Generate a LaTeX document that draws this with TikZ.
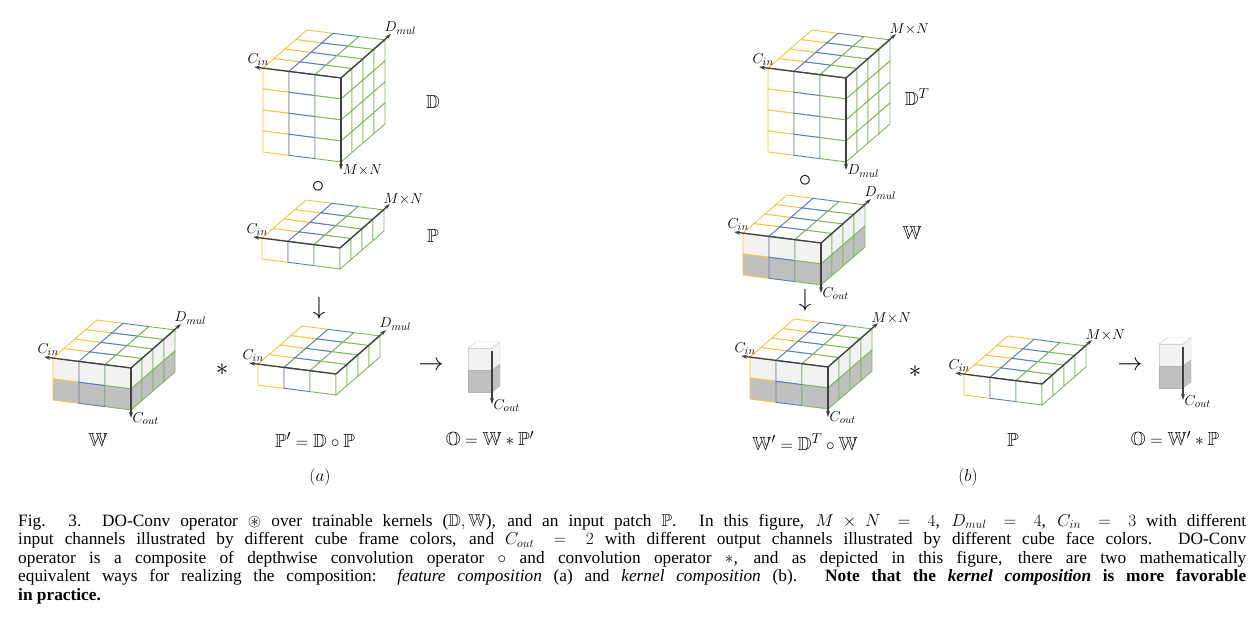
\documentclass[tikz,border=0pt]{standalone}
\usepackage{amssymb}
\usepackage{fontspec}
\setmainfont{Liberation Serif}
\usetikzlibrary{arrows.meta}
\definecolor{cy}{HTML}{F9C23C}
\definecolor{cb}{HTML}{4F7BC8}
\definecolor{cg}{HTML}{7DB955}
\definecolor{lg}{HTML}{F2F2F2}
\definecolor{dg}{HTML}{C0C0C0}
\definecolor{ax}{HTML}{404040}
\newcommand\cubeX[4]{%
 \foreach \c/\col in {0/cy,1/cb,2/cg}{%
  \foreach \k in {0,...,3}{%
   \draw[draw=\col,fill=white,line width=0.9pt] ({#1+\c*26+\k*11},{#2+\c*3.3-\k*9.5}) -- ++(26,3.3) -- ++(11,-9.5) -- ++(-26,-3.3) -- cycle;}
  \foreach \r in {1,...,#3}{%
   \def\fc{white}\ifnum#4=1 \ifnum\r=1 \def\fc{lg}\else\def\fc{dg}\fi\fi
   \draw[draw=\col,fill=\fc,line width=0.9pt] ({#1+\c*26},{#2+\c*3.3+(\r-1)*21}) -- ++(26,3.3) -- ++(0,21) -- ++(-26,-3.3) -- cycle;}}
 \foreach \r in {1,...,#3}{%
  \def\fc{white}\ifnum#4=1 \ifnum\r=1 \def\fc{lg}\else\def\fc{dg}\fi\fi
  \foreach \k in {0,...,3}{%
   \draw[draw=cg,fill=\fc,line width=0.9pt] ({#1+78+\k*11},{#2+10+(\r-1)*21-\k*9.5}) -- ++(11,-9.5) -- ++(0,21) -- ++(-11,9.5) -- cycle;}}}
\tikzset{axis/.style={draw=ax,line width=1.3pt,-{Stealth[length=6pt,width=4pt]}},
 lab/.style={font=\fontsize{15}{17}\selectfont,inner sep=1pt},
 big/.style={font=\fontsize{19}{22}\selectfont},
 op/.style={font=\fontsize{26}{28}\selectfont}}
\newcommand\axesX[7]{% X Y rows name Cin depth down
 \coordinate (#4o) at ({#1+78},{#2+10});
 \coordinate (#4l) at ({#1-9},{#2-1});
 \coordinate (#4d) at ({#1+78+50},{#2+10-44});
 \coordinate (#4v) at ({#1+78},{#2+10+#3*21+8});
 \draw[axis] (#4o) -- (#4l) node[lab,above right,xshift=-8pt] (#4L) {$#5$};
 \draw[axis] (#4o) -- (#4d) node[lab,above right,xshift=-8pt,yshift=-2pt] (#4D) {$#6$};
 \if\relax\detokenize{#7}\relax\else
 \draw[axis] (#4o) -- (#4v) node[lab,below right,yshift=7pt] (#4V) {$#7$};\fi}
\newcommand\outbox[2]{%
 \draw[draw=lg!60!gray,fill=white] ({#1},{#2}) -- ++(8,-6) -- ++(24,0) -- ++(-8,6) -- cycle;
 \draw[draw=lg!70!gray,fill=lg] ({#1},{#2}) rectangle ++(24,22);
 \draw[draw=dg!80!gray,fill=dg] ({#1},{#2+22}) rectangle ++(24,22);
 \draw[draw=lg!70!gray,fill=lg] ({#1+24},{#2}) -- ++(8,-6) -- ++(0,22) -- ++(-8,6) -- cycle;
 \draw[draw=dg!80!gray,fill=dg] ({#1+24},{#2+22}) -- ++(8,-6) -- ++(0,22) -- ++(-8,6) -- cycle;}
\begin{document}
\begin{tikzpicture}[x=1pt,y=-1pt]
\useasboundingbox (0,0) rectangle (1260,630);
% (a)
\cubeX{263}{68}{4}{0}\axesX{263}{68}{4}{aD}{C_{in}}{D_{mul}}{M{\times}N}
\node[big] (aDl) at (433,102) {$\mathbb{D}$};
\node[op] (aC) at (318,187) {$\circ$};
\cubeX{262}{238}{1}{0}\axesX{262}{238}{1}{aP}{C_{in}}{M{\times}N}{}
\node[big] (aPl) at (433,236) {$\mathbb{P}$};
\node[op] (aA) at (319,308) {$\downarrow$};
\cubeX{53}{358}{2}{1}\axesX{53}{358}{2}{aW}{C_{in}}{D_{mul}}{C_{out}}
\node[op] (aS) at (222,370) {$\ast$};
\cubeX{258}{364}{1}{0}\axesX{258}{364}{1}{aQ}{C_{in}}{D_{mul}}{}
\node[op] (aR) at (431,366) {$\rightarrow$};
\outbox{468}{348}
\coordinate (aOo) at (492,351); \coordinate (aOv) at (492,404);
\draw[axis] (aOo) -- (aOv) node[lab,below right,yshift=6pt] (aOV) {$C_{out}$};
\node[big] (aWl) at (98,440) {$\mathbb{W}$};
\node[big] (aQl) at (315,440) {$\mathbb{P}'=\mathbb{D}\circ\mathbb{P}$};
\node[big] (aOl) at (490,440) {$\mathbb{O}=\mathbb{W}\ast\mathbb{P}'$};
\node[big] (aT) at (320,477) {$(a)$};
% (b)
\cubeX{768}{68}{4}{0}\axesX{768}{68}{4}{bD}{C_{in}}{M{\times}N}{D_{mul}}
\node[big] (bDl) at (917,97) {$\mathbb{D}^T$};
\node[op] (bC) at (805,181) {$\circ$};
\cubeX{743}{233}{2}{1}\axesX{743}{233}{2}{bW}{C_{in}}{D_{mul}}{C_{out}}
\node[big] (bWl) at (912,233) {$\mathbb{W}$};
\node[op] (bA) at (805,300) {$\downarrow$};
\cubeX{750}{357}{2}{1}\axesX{750}{357}{2}{bV}{C_{in}}{M{\times}N}{C_{out}}
\node[op] (bS) at (915,372) {$\ast$};
\cubeX{964}{374}{1}{0}\axesX{964}{374}{1}{bP}{C_{in}}{M{\times}N}{}
\node[op] (bR) at (1130,366) {$\rightarrow$};
\outbox{1159}{344}
\coordinate (bOo) at (1183,347); \coordinate (bOv) at (1183,400);
\draw[axis] (bOo) -- (bOv) node[lab,below right,yshift=6pt] (bOV) {$C_{out}$};
\node[big] (bVl) at (805,442) {$\mathbb{W}'=\mathbb{D}^T\circ\mathbb{W}$};
\node[big] (bPl) at (1013,440) {$\mathbb{P}$};
\node[big] (bOl) at (1175,440) {$\mathbb{O}=\mathbb{W}'\ast\mathbb{P}$};
\node[big] (bT) at (968,477) {$(b)$};
% caption
\node[anchor=north west,text width=1228pt,align=justify,inner sep=0pt,font=\fontsize{17.3}{18.5}\selectfont] (cap) at (18,514)
{Fig. 3.\hspace{1.2em}DO-Conv operator $\circledast$ over trainable kernels ($\mathbb{D},\mathbb{W}$), and an input patch $\mathbb{P}$. In this figure, $M\times N=4$, $D_{mul}=4$, $C_{in}=3$ with different\linebreak input channels illustrated by different cube frame colors, and $C_{out}=2$ with different output channels illustrated by different cube face colors. DO-Conv\linebreak operator is a composite of depthwise convolution operator $\circ$ and convolution operator $\ast$, and as depicted in this figure, there are two mathematically\linebreak equivalent ways for realizing the composition: \emph{feature composition} (a) and \emph{kernel composition} (b). \textbf{Note that the \emph{kernel composition} is more favorable\linebreak in practice.}};
\end{tikzpicture}
\end{document}
